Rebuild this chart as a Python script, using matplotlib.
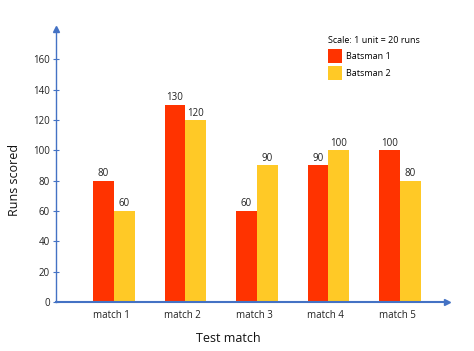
import numpy as np
import matplotlib.pyplot as plt

matches = ["match 1", "match 2", "match 3", "match 4", "match 5"]
batsman1 = [80, 130, 60, 90, 100]
batsman2 = [60, 120, 90, 100, 80]
yticks = [0, 20, 40, 60, 80, 100, 120, 140, 160]

red = "#FF3300"
yellow = "#FFC926"
axis_blue = "#4472C4"

plt.rcParams["font.family"] = ["Open Sans", "DejaVu Sans"]

fig = plt.figure(figsize=(4.74, 3.51), dpi=100)
ax = fig.add_axes([0.118, 0.14, 0.825, 0.777])

x = np.arange(1, len(matches) + 1)
w = 0.29
b1 = ax.bar(x - w / 2, batsman1, w, color=red, label="Batsman 1")
b2 = ax.bar(x + w / 2, batsman2, w, color=yellow, label="Batsman 2")

for bars, vals in [(b1, batsman1), (b2, batsman2)]:
    for bar, v in zip(bars, vals):
        ax.text(bar.get_x() + bar.get_width() / 2, v + 1, str(v),
                ha="center", va="bottom", fontsize=7, color="#222222")

ax.set_xlim(0.19, 5.66)
ax.set_ylim(0, 180)
ax.set_xticks(x - 0.04)
ax.set_xticklabels(matches)
ax.set_yticks(yticks)

ax.spines["top"].set_visible(False)
ax.spines["right"].set_visible(False)
for s in ["left", "bottom"]:
    ax.spines[s].set_color(axis_blue)
ax.spines["left"].set_linewidth(1.0)
ax.spines["bottom"].set_linewidth(1.5)

# arrow heads on the axes
ax.plot(1, 0, ">", color=axis_blue, markersize=4, transform=ax.transAxes, clip_on=False)
ax.plot(0, 1, "^", color=axis_blue, markersize=4, transform=ax.transAxes, clip_on=False)

ax.tick_params(axis="y", direction="inout", length=5, color=axis_blue,
               labelsize=7, labelcolor="#222222", pad=2)
ax.tick_params(axis="x", length=0, labelsize=7, labelcolor="#222222", pad=6)

ax.set_ylabel("Runs scored", fontsize=9, color="#111111")
ax.yaxis.set_label_coords(-0.09, 0.447)
ax.set_xlabel("Test match", fontsize=9, color="#111111")
ax.xaxis.set_label_coords(0.44, -0.11)

leg = ax.legend(title="Scale: 1 unit = 20 runs", loc="upper left",
                bbox_to_anchor=(0.678, 0.915), bbox_transform=fig.transFigure,
                frameon=False, fontsize=6.5, title_fontsize=6.5, alignment="left",
                handlelength=1.6, handleheight=2.0, handletextpad=0.4,
                labelspacing=0.4, borderpad=0.2)

fig.savefig("out.png", dpi=100)
